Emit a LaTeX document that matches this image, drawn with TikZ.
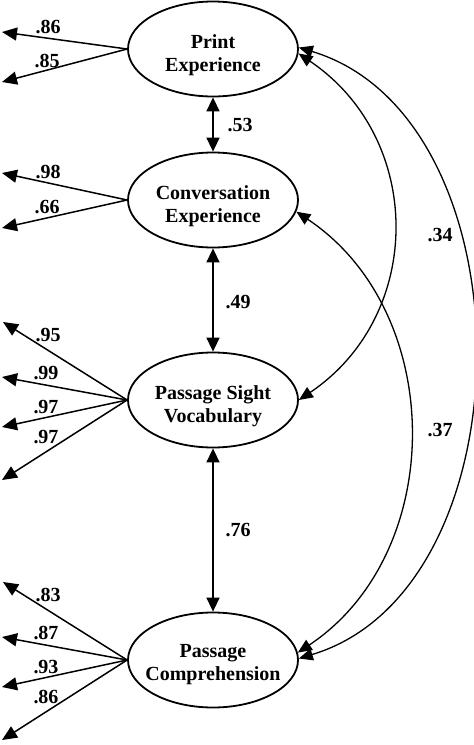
\documentclass[tikz,border=0pt]{standalone}
\usepackage{fontspec}
\setmainfont{Liberation Serif}
\usetikzlibrary{arrows.meta,shapes.geometric}
\begin{document}
\begin{tikzpicture}[x=1pt,y=-1pt,
  latent/.style={draw, ellipse, line width=1.8pt, minimum width=170pt, minimum height=95pt, inner sep=0pt},
  lname/.style={font=\fontsize{20}{23}\selectfont\bfseries, align=center, inner sep=0pt},
  coef/.style={font=\fontsize{20}{23}\selectfont\bfseries, inner sep=0pt},
  ind/.style={line width=1.5pt, -{Triangle[length=15pt,width=13pt]}},
  corr/.style={line width=1.5pt, {Triangle[length=14pt,width=13pt]}-{Triangle[length=14pt,width=13pt]}},
  cov/.style={line width=1.3pt, {Triangle[length=14pt,width=12pt]}-{Triangle[length=14pt,width=12pt]}}
]
\useasboundingbox (0,0) rectangle (474,745);

% latent variables
\node[latent] (pe) at (213,49) {};
\node[latent] (ce) at (213,200) {};
\node[latent] (sv) at (213,400) {};
\node[latent] (cp) at (213,660) {};
\node[lname] (pe-t) at (213,55) {Print\\Experience};
\node[lname] (ce-t) at (213,206) {Conversation\\Experience};
\node[lname] (sv-t) at (213,406) {Passage Sight\\Vocabulary};
\node[lname] (cp-t) at (213,665) {Passage\\Comprehension};

% indicator ends
\coordinate (p1) at (2,32);
\coordinate (p2) at (2,82);
\coordinate (c1) at (2,173);
\coordinate (c2) at (2,228);
\coordinate (s1) at (3,322);
\coordinate (s2) at (2,377);
\coordinate (s3) at (2,427);
\coordinate (s4) at (2,480);
\coordinate (q1) at (3,582);
\coordinate (q2) at (2,637);
\coordinate (q3) at (2,687);
\coordinate (q4) at (2,740);

\draw[ind] (pe.west) -- (p1);
\draw[ind] (pe.west) -- (p2);
\draw[ind] (ce.west) -- (c1);
\draw[ind] (ce.west) -- (c2);
\draw[ind] (sv.west) -- (s1);
\draw[ind] (sv.west) -- (s2);
\draw[ind] (sv.west) -- (s3);
\draw[ind] (sv.west) -- (s4);
\draw[ind] (cp.west) -- (q1);
\draw[ind] (cp.west) -- (q2);
\draw[ind] (cp.west) -- (q3);
\draw[ind] (cp.west) -- (q4);

\node[coef] (l-p1) at (48,27) {.86};
\node[coef] (l-p2) at (47,61) {.85};
\node[coef] (l-c1) at (48,172) {.98};
\node[coef] (l-c2) at (47,207) {.66};
\node[coef] (l-s1) at (48,335) {.95};
\node[coef] (l-s2) at (46,373) {.99};
\node[coef] (l-s3) at (46,407) {.97};
\node[coef] (l-s4) at (46,437) {.97};
\node[coef] (l-q1) at (48,595) {.83};
\node[coef] (l-q2) at (46,633) {.87};
\node[coef] (l-q3) at (46,667) {.93};
\node[coef] (l-q4) at (46,697) {.86};

% correlations between adjacent factors
\draw[corr] (pe.south) -- (ce.north);
\draw[corr] (ce.south) -- (sv.north);
\draw[corr] (sv.south) -- (cp.north);
\node[coef] (l-pc) at (240,125) {.53};
\node[coef] (l-cs) at (238,302) {.49};
\node[coef] (l-sq) at (238,530) {.76};

% curved covariances
\draw[cov] (pe.1) .. controls +(233,70) and +(233,-70) .. (cp.1);
\draw[cov] (pe.-3) .. controls +(126,85) and +(126,-85) .. (sv.east);
\draw[cov] (ce.-8) .. controls +(150,100) and +(150,-100) .. (cp.5);
\node[coef] (l-34) at (440,235) {.34};
\node[coef] (l-37) at (440,430) {.37};
\end{tikzpicture}
\end{document}
